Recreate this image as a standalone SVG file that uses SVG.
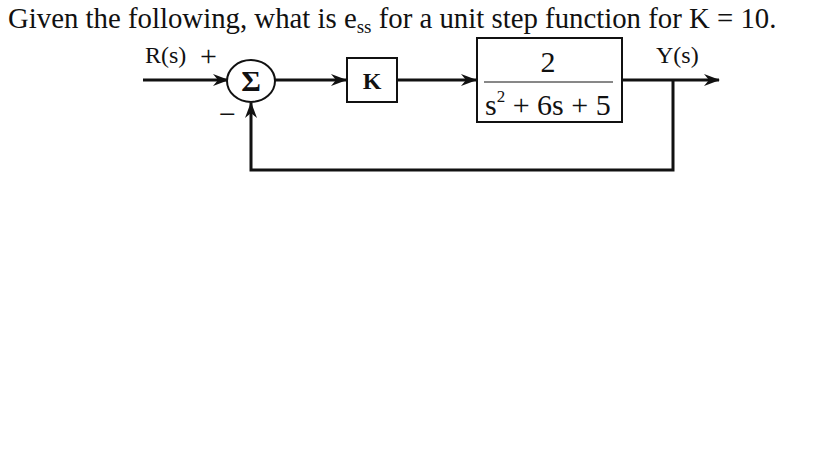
<svg xmlns="http://www.w3.org/2000/svg" width="819" height="460" viewBox="0 0 819 460">
<defs>
<marker id="ah" viewBox="0 0 16 12" refX="15" refY="6" markerWidth="16" markerHeight="12" markerUnits="userSpaceOnUse" orient="auto"><path d="M0,0 L16,6 L0,12 L5,6 Z" fill="#111"/></marker>
<style>
.t{font-family:"Liberation Serif",serif;fill:#111}
.w{stroke:#111;stroke-width:3;fill:none}
.b{stroke:#111;stroke-width:2;fill:#fff}
</style>
</defs>
<rect width="819" height="460" fill="#fff"/>
<text class="t" x="8" y="28" font-size="28.8">Given the following, what is e<tspan font-size="19" dy="5">ss</tspan><tspan dy="-5"> for a unit step function for K = 10.</tspan></text>
<g id="connectors">
<line class="w" x1="143" y1="80" x2="228" y2="80" marker-end="url(#ah)"/>
<line class="w" x1="274" y1="80" x2="346" y2="80" marker-end="url(#ah)"/>
<line class="w" x1="398" y1="80" x2="476" y2="80" marker-end="url(#ah)"/>
<line class="w" x1="623" y1="80" x2="719" y2="80" marker-end="url(#ah)"/>
<polyline class="w" points="673,80 673,170 251,170 251,103" marker-end="url(#ah)"/>
</g>
<g id="input"><text class="t" x="145" y="63" font-size="24">R(s)</text><text class="t" x="200" y="66" font-size="30">+</text><text class="t" x="219" y="124" font-size="30">−</text></g>
<g id="sum"><ellipse class="b" cx="251" cy="81" rx="24" ry="21"/><text class="t" x="251" y="91" font-size="30" font-weight="bold" text-anchor="middle">Σ</text></g>
<g id="k"><rect class="b" x="347" y="58" width="50" height="44"/><text class="t" x="372" y="89" font-size="24" font-weight="bold" text-anchor="middle">K</text></g>
<g id="plant"><rect class="b" x="477" y="38" width="145" height="84"/><text class="t" x="548" y="72" font-size="30" text-anchor="middle">2</text><line x1="484" y1="82" x2="613" y2="82" stroke="#111" stroke-width="1"/><text class="t" x="485" y="115" font-size="30">s<tspan font-size="17" dy="-13">2</tspan><tspan dy="13"> + 6s + 5</tspan></text></g>
<g id="output"><text class="t" x="656" y="63" font-size="24">Y(s)</text></g>
</svg>
